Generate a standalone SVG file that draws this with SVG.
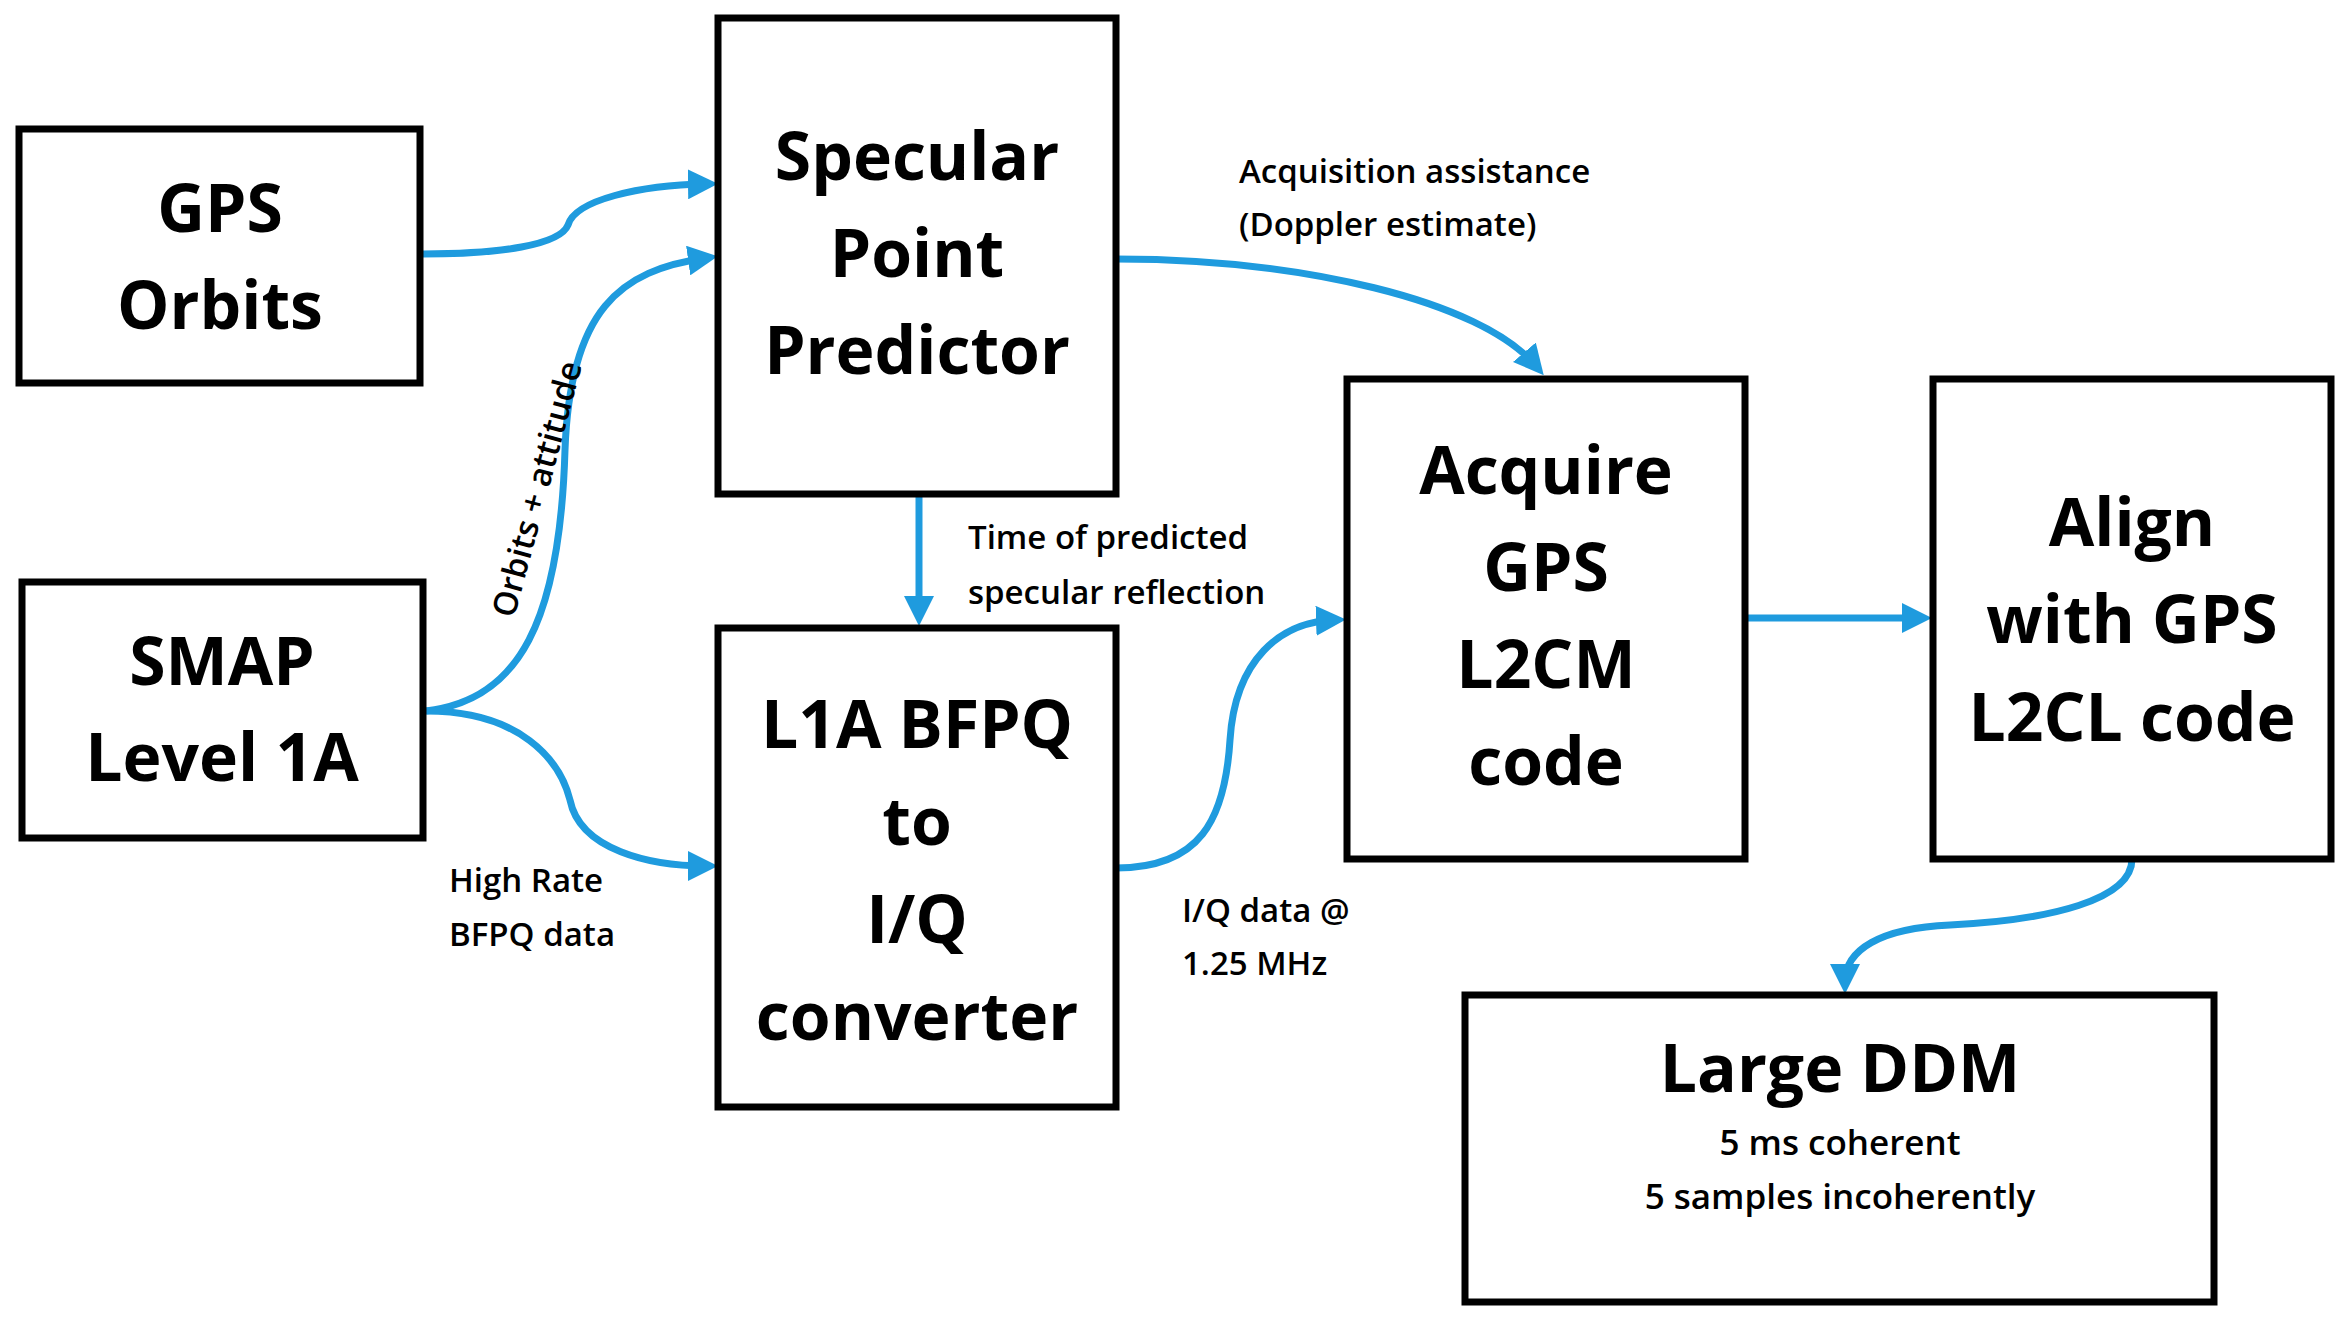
<svg xmlns="http://www.w3.org/2000/svg" width="2346" height="1318" viewBox="0 0 2346 1318">
<style>
.box{fill:#fff;stroke:#000;stroke-width:7}
.big{font-family:"Open Sans","Liberation Sans",sans-serif;font-weight:bold;font-size:66px;text-anchor:middle;fill:#000}
.sm{font-family:"Open Sans","Liberation Sans",sans-serif;font-weight:600;font-size:33px;fill:#000}
.smc{font-family:"Open Sans","Liberation Sans",sans-serif;font-weight:600;font-size:35px;fill:#000;text-anchor:middle}
.c{fill:none;stroke:#1f9bde;stroke-width:7;marker-end:url(#a)}
</style>
<defs>
<marker id="a" markerUnits="userSpaceOnUse" markerWidth="30" markerHeight="30" viewBox="0 0 10 10" refX="6" refY="5" orient="auto">
<path d="M0,0 L10,5 L0,10 Z" fill="#1f9bde"/>
</marker>
</defs>
<rect width="2346" height="1318" fill="#fff"/>
<g id="connectors">
<path class="c" d="M423,254 C500,254 560,245 568,225 C575,200 640,185 706,184"/>
<path class="c" d="M426,711 C520,700 560,620 565,450 C570,310 620,270 706,258"/>
<path class="c" d="M426,711 C520,711 560,760 570,800 C580,850 650,866 706,866"/>
<path class="c" d="M919,494 L919,614"/>
<path class="c" d="M1116,259 C1300,259 1480,300 1536,366"/>
<path class="c" d="M1116,868 C1200,868 1225,820 1230,740 C1235,660 1280,622 1334,620"/>
<path class="c" d="M1745,618 L1920,618"/>
<path class="c" d="M2132,859 C2132,900 2050,920 1950,925 C1880,928 1845,950 1845,982"/>
<text class="sm" x="1239" y="183">Acquisition  assistance</text>
<text class="sm" x="1239" y="236">(Doppler estimate)</text>
<text class="sm" x="968" y="549">Time of predicted</text>
<text class="sm" x="968" y="604">specular  reflection</text>
<text class="sm" x="449" y="892">High Rate</text>
<text class="sm" x="449" y="946">BFPQ data</text>
<text class="sm" x="1182" y="922">I/Q data @</text>
<text class="sm" x="1182" y="975">1.25 MHz</text>
<text class="sm" x="0" y="0" text-anchor="middle" transform="translate(548,492) rotate(-75)">Orbits + attitude</text>
</g>
<g id="gps"><rect class="box" x="19" y="129" width="401" height="254"/>
<text class="big" x="220" y="232">GPS</text><text class="big" x="220" y="329">Orbits</text></g>
<g id="smap"><rect class="box" x="22" y="582" width="401" height="256"/>
<text class="big" x="222" y="685">SMAP</text><text class="big" x="222" y="781">Level 1A</text></g>
<g id="spp"><rect class="box" x="718" y="18" width="398" height="476"/>
<text class="big" x="917" y="180">Specular</text><text class="big" x="917" y="277">Point</text><text class="big" x="917" y="374">Predictor</text></g>
<g id="l1a"><rect class="box" x="718" y="628" width="398" height="479"/>
<text class="big" x="917" y="748">L1A BFPQ</text><text class="big" x="917" y="845">to</text><text class="big" x="917" y="943">I/Q</text><text class="big" x="917" y="1040">converter</text></g>
<g id="acquire"><rect class="box" x="1347" y="379" width="398" height="480"/>
<text class="big" x="1546" y="494">Acquire</text><text class="big" x="1546" y="591">GPS</text><text class="big" x="1546" y="688">L2CM</text><text class="big" x="1546" y="785">code</text></g>
<g id="align"><rect class="box" x="1933" y="379" width="398" height="480"/>
<text class="big" x="2132" y="546">Align</text><text class="big" x="2132" y="643">with GPS</text><text class="big" x="2132" y="741">L2CL code</text></g>
<g id="ddm"><rect class="box" x="1465" y="995" width="749" height="307"/>
<text class="big" x="1840" y="1092">Large DDM</text>
<text class="smc" x="1840" y="1155">5 ms coherent</text>
<text class="smc" x="1840" y="1209">5 samples incoherently</text></g>
</svg>
